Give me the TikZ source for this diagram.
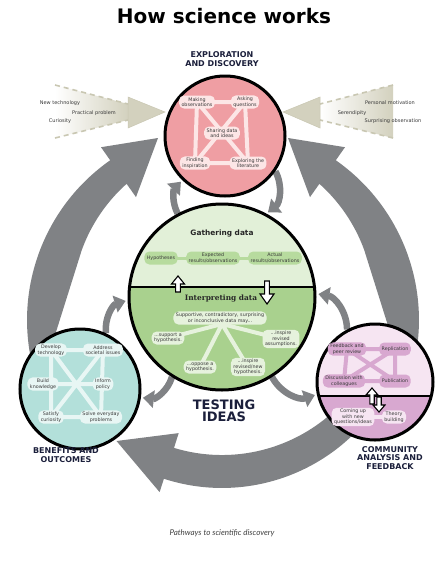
\documentclass[tikz,border=0pt]{standalone}
\usepackage{fontspec}
\setmainfont{DejaVu Sans}
\newfontfamily\serifb{DejaVu Serif}
\newfontfamily\capfont{Lato}
\usetikzlibrary{arrows.meta}
\pgfdeclarelayer{back}\pgfdeclarelayer{circ}\pgfdeclarelayer{lines}
\pgfsetlayers{back,circ,lines,main}
\definecolor{arrgray}{HTML}{808285}
\definecolor{beige}{HTML}{D3D1BE}
\definecolor{beigedash}{HTML}{C9C7B2}
\definecolor{pinkfill}{HTML}{EF9EA3}
\definecolor{pinkpill}{HTML}{FCE6E6}
\definecolor{greenlight}{HTML}{E2F0D8}
\definecolor{greenmid}{HTML}{A9D18E}
\definecolor{greenpill}{HTML}{B7DB9E}
\definecolor{greenpill2}{HTML}{E6F2DD}
\definecolor{tealfill}{HTML}{B3E0DA}
\definecolor{tealpill}{HTML}{E8F6F4}
\definecolor{purlight}{HTML}{F6E5F2}
\definecolor{purmid}{HTML}{D8A8D0}
\definecolor{txt}{HTML}{3A3A3A}
\definecolor{navy}{HTML}{1B1F3B}
\begin{document}
\begin{tikzpicture}[x=1pt,y=-1pt,
  tiny/.style={font=\fontsize{4.8}{5.4}\selectfont, text=txt, align=center},
  pill/.style={tiny, rounded corners=5pt, inner xsep=2.5pt, inner ysep=1.5pt, minimum height=13pt},
  lbl/.style={font=\bfseries\fontsize{8}{8.6}\selectfont, text=navy, align=center},
  bigcirc/.style={circle, draw=black, line width=3pt, inner sep=0pt},
  link/.style={line width=4pt},
  smallarr/.style={draw=arrgray, line width=6.5pt, -{Triangle[width=17pt,length=11pt]}, shorten >=2pt},
  hollow/.style={draw=black, fill=white, line width=1.1pt, line join=miter},
  intxt/.style={font=\fontsize{5}{5.6}\selectfont, text=txt},
]
\useasboundingbox (0,0) rectangle (443,582);

% ---------- circles ----------
\begin{pgfonlayer}{circ}
\node[bigcirc, fill=pinkfill, minimum size=120pt] (expl) at (225,136) {};
\node[bigcirc, fill=greenlight, minimum size=186pt,
  path picture={\fill[greenmid] ([yshift=10pt]path picture bounding box.west) rectangle (path picture bounding box.south east);
  \draw[line width=1.6pt] ([yshift=10pt]path picture bounding box.west) -- ([yshift=10pt]path picture bounding box.east);}] (test) at (222,297) {};
\node[bigcirc, fill=tealfill, minimum size=120pt] (bene) at (80,389) {};
\node[bigcirc, fill=purlight, minimum size=116pt,
  path picture={\fill[purmid] ([yshift=-14pt]path picture bounding box.west) rectangle (path picture bounding box.south east);
  \draw[line width=1.6pt] ([yshift=-14pt]path picture bounding box.west) -- ([yshift=-14pt]path picture bounding box.east);}] (comm) at (375,382) {};
\end{pgfonlayer}

% ---------- background arrows ----------
\begin{pgfonlayer}{back}
\fill[white] (0,0) rectangle (443,582);
% big gray ring arrows
\fill[arrgray] (38.8,386.7) arc[start angle=160,end angle=235,radius=195] -- (101.0,147.2) -- (158,138) -- (136.0,197.1) -- (126.6,183.8) arc[start angle=228.2,end angle=200,radius=164] -- cycle;
\begin{scope}[xshift=446pt, xscale=-1]
\fill[arrgray] (38.8,386.7) arc[start angle=160,end angle=235,radius=195] -- (101.0,147.2) -- (158,138) -- (136.0,197.1) -- (126.6,183.8) arc[start angle=228.2,end angle=200,radius=164] -- cycle;
\end{scope}
\fill[arrgray] (366.0,420.8) arc[start angle=40,end angle=108,radius=188] -- (159.6,492.1) -- (116.5,441) -- (178.7,433.1) -- (174.0,447.9) arc[start angle=106.9,end angle=45,radius=165] -- cycle;
% beige input arrows
\foreach \s/\m in {0/1, 448/-1}{
\begin{scope}[xshift=\s pt, xscale=\m]
\shade[left color=white, right color=beige] (55,85) -- (128,104) -- (128,120) -- (55,138) -- cycle;
\fill[beige, draw=beigedash, line width=0.5pt] (128,97) -- (165,112) -- (128,128) -- cycle;
\draw[beigedash, line width=1.6pt, dash pattern=on 5pt off 4pt] (55,85) -- (128,104) (55,138) -- (128,120);
\end{scope}}
% small gray arrows
\draw[smallarr] (test.118) to[bend left=35] (expl.226);
\draw[smallarr] (expl.325) to[bend left=40] (test.62);
\draw[smallarr] (bene.65) to[bend left=40] (test.182);
\draw[smallarr] (test.238) to[bend left=40] (bene.-8);
\draw[smallarr] (test.-58) to[bend right=40] (comm.192);
\draw[smallarr] (comm.118) to[bend right=40] (test.2);
\end{pgfonlayer}

% ---------- titles and labels ----------
\node[font=\bfseries\fontsize{20}{22}\selectfont] (title) at (224,16) {How science works};
\node[lbl] (lexp) at (222,59) {EXPLORATION\\AND DISCOVERY};
\node[lbl] (lben) at (66,455) {BENEFITS AND\\OUTCOMES};
\node[lbl] (lcom) at (390,458) {COMMUNITY\\ANALYSIS AND\\FEEDBACK};
\node[font=\bfseries\fontsize{13}{12}\selectfont, text=navy, align=center] (ltest) at (224,411) {TESTING\\IDEAS};
\node[font=\capfont\itshape\fontsize{8}{9}\selectfont, text=black!75] (cap) at (222,533) {Pathways to scientific discovery};

% input labels
\node[intxt] (nt) at (60,103) {New technology};
\node[intxt] (pp) at (94,113) {Practical problem};
\node[intxt] (cu) at (60,121) {Curiosity};
\node[intxt] (pm) at (390,103) {Personal motivation};
\node[intxt] (se) at (352,113) {Serendipity};
\node[intxt] (so) at (393,121) {Surprising observation};

% ---------- exploration ----------
\node[pill, fill=pinkpill] (mo) at (197,102) {Making\\observations};
\node[pill, fill=pinkpill] (aq) at (245,102) {Asking\\questions};
\node[pill, fill=pinkpill] (sd) at (222,133) {Sharing data\\and ideas};
\node[pill, fill=pinkpill] (fi) at (195,163) {Finding\\inspiration};
\node[pill, fill=pinkpill] (el) at (248,163) {Exploring the\\literature};
\begin{pgfonlayer}{lines}
\draw[link, draw=pinkpill] (mo.center) -- (aq.center) -- (el.center) -- (fi.center) -- cycle (mo.center) -- (el.center) (aq.center) -- (fi.center);
\end{pgfonlayer}

% ---------- testing ideas ----------
\node[font=\bfseries\fontsize{7.4}{8}\selectfont, text=black!85] (gd) at (222,233) {Gathering data};
\node[pill, fill=greenpill] (hyp) at (161,258) {Hypotheses};
\node[pill, fill=greenpill] (exr) at (213,258) {Expected\\results/observations};
\node[pill, fill=greenpill] (acr) at (275,258) {Actual\\results/observations};
\node[font=\serifb\bfseries\fontsize{7.4}{8}\selectfont, text=black!85] (idt) at (221,299) {Interpreting data};
\node[pill, fill=greenpill2] (sup) at (220,318) {Supportive, contradictory, surprising\\or inconclusive data may...};
\coordinate (hub) at (222,324);
\node[pill, fill=greenpill2] (s1) at (168,338) {...support a\\hypothesis.};
\node[pill, fill=greenpill2] (s2) at (200,367) {...oppose a\\hypothesis.};
\node[pill, fill=greenpill2] (s3) at (248,367) {...inspire\\revised/new\\hypothesis.};
\node[pill, fill=greenpill2] (s4) at (281,339) {...inspire\\revised\\assumptions.};
\begin{pgfonlayer}{lines}
\draw[line width=3pt, draw=greenpill] (hyp.center) -- (exr.center) -- (acr.center);
\draw[link, draw=greenpill2] (hub) -- (s1.center) (hub) -- (s2.center) (hub) -- (s3.center) (hub) -- (s4.center);
\end{pgfonlayer}
\draw[hollow] (175.6,292) -- (175.6,284) -- (171.5,284) -- (178,276) -- (184.5,284) -- (180.4,284) -- (180.4,292) -- cycle;
\draw[hollow] (264.6,281) -- (264.6,294) -- (260,294) -- (267,304) -- (274,294) -- (269.4,294) -- (269.4,281) -- cycle;

% ---------- benefits ----------
\node[pill, fill=tealpill] (dt) at (51,350) {Develop\\technology};
\node[pill, fill=tealpill] (asi) at (103,350) {Address\\societal issues};
\node[pill, fill=tealpill] (bk) at (43,384) {Build\\knowledge};
\node[pill, fill=tealpill] (ip) at (103,384) {Inform\\policy};
\node[pill, fill=tealpill] (sc) at (51,417) {Satisfy\\curiosity};
\node[pill, fill=tealpill] (sep) at (101,417) {Solve everyday\\problems};
\begin{pgfonlayer}{lines}
\draw[link, draw=tealpill] (dt.center) -- (asi.center) -- (sep.center) -- (sc.center) -- cycle (dt.center) -- (sep.center) (asi.center) -- (sc.center) (bk.center) -- (ip.center);
\end{pgfonlayer}

% ---------- community ----------
\node[pill, fill=purmid] (fpr) at (347,349) {Feedback and\\peer review};
\node[pill, fill=purmid] (rep) at (395,349) {Replication};
\node[pill, fill=purmid] (dwc) at (344,381) {Discussion with\\colleagues};
\node[pill, fill=purmid] (pub) at (395,381) {Publication};
\node[pill, fill=purlight] (cun) at (353,417) {Coming up\\with new\\questions/ideas};
\node[pill, fill=purlight] (tb) at (394,417) {Theory\\building};
\begin{pgfonlayer}{lines}
\draw[link, draw=purmid] (fpr.center) -- (rep.center) -- (pub.center) -- (dwc.center) -- cycle (fpr.center) -- (pub.center) (rep.center) -- (dwc.center);
\draw[link, draw=purlight] (cun.center) -- (tb.center);
\end{pgfonlayer}
\draw[hollow] (369.8,404) -- (369.8,395) -- (366,395) -- (372,388) -- (378,395) -- (374.2,395) -- (374.2,404) -- cycle;
\draw[hollow] (376.8,397) -- (376.8,405) -- (373,405) -- (379,412) -- (385,405) -- (381.2,405) -- (381.2,397) -- cycle;
\end{tikzpicture}
\end{document}
